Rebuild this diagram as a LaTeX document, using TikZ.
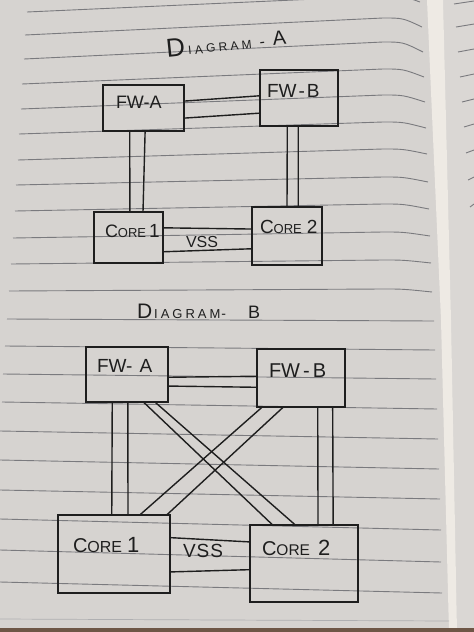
\documentclass[tikz,border=0pt]{standalone}
\usepackage{fontspec}
\setmainfont{Liberation Sans}
\usetikzlibrary{calc}
\definecolor{paper}{RGB}{214,211,208}
\definecolor{nextpage}{RGB}{218,215,212}
\definecolor{pageedge}{RGB}{238,234,228}
\definecolor{rulecol}{RGB}{122,122,126}
\definecolor{ink}{RGB}{30,30,30}
\definecolor{tablecol}{RGB}{110,86,70}
\newcommand\hsz[1]{\fontsize{#1}{#1}\selectfont}
\begin{document}
\begin{tikzpicture}[x=1pt,y=-1pt,
  rulestyle/.style={draw=rulecol,line width=0.9pt},
  pen/.style={draw=ink,line width=1.4pt},
  box/.style={draw=ink,line width=1.5pt,rectangle,inner sep=0pt,outer sep=0pt},
  lbl/.style={inner sep=0pt,outer sep=0pt,text=ink}]
\useasboundingbox (0,0) rectangle (474,632);
% paper
\fill[paper] (0,0) rectangle (474,632);
\fill[nextpage] (443,0) -- (474,0) -- (474,632) -- (457,632) -- (451,320) -- cycle;
\fill[pageedge] (427,0) -- (443,0) -- (451,320) -- (457,632) -- (449,632) -- (441,320) -- cycle;
\draw[rulecol!60,line width=0.7pt] (0,619) -- (449,621);
\fill[tablecol] (0,628) rectangle (474,632);
% ruled lines (upper part: rising, with a droop near the binding)
\foreach \yl/\ym/\yr/\xl/\xr in {12/-4/2/27/420,35/18/27/25/422,59/42/52/24/423,84/69/77/22/424,
  109/95/102/21/425,134/122/128/19/426,160/149/154/18/427,185/177/182/16/428,
  211/204/209/15/429,238/232/236/13/430,264/260/263/11/431,291/289/292/9/432}
  \draw[rulestyle] (\xl,\yl) -- (383,\ym) .. controls (403,\ym) .. (\xr,\yr);
% ruled lines (lower part)
\foreach \yl/\yr/\xl/\xr in {319/321/7/434,346/350/5/435,374/379/3/436,402/409/2/437,431/439/0/438,
  460/469/0/439,490/499/0/440,519/530/0/441,550/562/0/441,582/593/0/442}
  \draw[rulestyle] (\xl,\yl) -- (\xr,\yr);
\foreach \ys/\xs in {4/454,27/456,52/458,77/460,102/462,127/464,153/466,180/468,207/470}
  \draw[rulestyle] (\xs,\ys) -- (474,\ys-3);

% ---------------- Diagram A ----------------
\node[lbl,anchor=base west,rotate=6] (titleA) at (167,57)
  {\hsz{26}D\kern3pt\hsz{12}I\kern3.3pt A\kern3.3pt G\kern3.3pt R\kern3.3pt A\kern3.3pt M\kern8pt\hsz{16}-\kern8pt\hsz{20}A};

\node[box,minimum width=81pt,minimum height=46pt] (fwaA) at (143.5,108) {};
\node[box,minimum width=78pt,minimum height=56pt] (fwbA) at (299,98) {};
\node[box,minimum width=69pt,minimum height=51pt] (coreoneA) at (128.5,237.5) {};
\node[box,minimum width=70pt,minimum height=58pt] (coretwoA) at (287,236) {};

\node[lbl,anchor=base west] (tfwaA) at (116,108) {\hsz{18}FW-A};
\node[lbl,anchor=base west] (tfwbA) at (267,97) {\hsz{19}FW\kern2pt-\kern2pt B};
\node[lbl,anchor=base west] (tcoreoneA) at (105,237) {\hsz{18}C\hsz{13}ORE\kern3pt\hsz{19}1};
\node[lbl,anchor=base west] (tcoretwoA) at (260,233) {\hsz{19}C\hsz{13}ORE\kern5pt\hsz{19}2};
\node[lbl,anchor=base west] (tvssA) at (186,247) {\hsz{16}VSS};

% FW-A -- FW-B
\draw[pen] ($(fwaA.north east)!0.35!(fwaA.south east)$) -- ($(fwbA.north west)!0.46!(fwbA.south west)$);
\draw[pen] ($(fwaA.north east)!0.72!(fwaA.south east)$) -- ($(fwbA.north west)!0.77!(fwbA.south west)$);
% FW-A -- Core 1
\draw[pen] ($(fwaA.south west)!0.33!(fwaA.south east)$) -- ($(coreoneA.north west)!0.52!(coreoneA.north east)$);
\draw[pen] ($(fwaA.south west)!0.52!(fwaA.south east)$) -- ($(coreoneA.north west)!0.71!(coreoneA.north east)$);
% FW-B -- Core 2
\draw[pen] ($(fwbA.south west)!0.35!(fwbA.south east)$) -- ($(coretwoA.north west)!0.5!(coretwoA.north east)$);
\draw[pen] ($(fwbA.south west)!0.49!(fwbA.south east)$) -- ($(coretwoA.north west)!0.66!(coretwoA.north east)$);
% VSS
\draw[pen] ($(coreoneA.north east)!0.31!(coreoneA.south east)$) -- ($(coretwoA.north west)!0.38!(coretwoA.south west)$);
\draw[pen] ($(coreoneA.north east)!0.78!(coreoneA.south east)$) -- ($(coretwoA.north west)!0.72!(coretwoA.south west)$);

% ---------------- Diagram B ----------------
\node[lbl,anchor=base west] (titleB) at (137,318)
  {\hsz{21}D\kern2pt\hsz{13}I\kern3pt A\kern3pt G\kern3pt R\kern3pt A\kern3pt M\kern1pt\hsz{14}-\kern22pt\hsz{18}B};

\node[box,minimum width=82pt,minimum height=55pt] (fwaB) at (127,374.5) {};
\node[box,minimum width=88pt,minimum height=58pt] (fwbB) at (301,378) {};
\node[box,minimum width=112pt,minimum height=78pt] (coreoneB) at (114,554) {};
\node[box,minimum width=108pt,minimum height=77pt] (coretwoB) at (304,563.5) {};

\node[lbl,anchor=base west] (tfwaB) at (97,372) {\hsz{19}FW-\kern7pt A};
\node[lbl,anchor=base west] (tfwbB) at (269,377) {\hsz{20}FW\kern3pt-\kern3pt B};
\node[lbl,anchor=base west] (tcoreoneB) at (73,552) {\hsz{20}C\hsz{16}ORE\kern5pt\hsz{22}1};
\node[lbl,anchor=base west] (tcoretwoB) at (262,555) {\hsz{20}C\hsz{15.5}ORE\kern8pt\hsz{22}2};
\node[lbl,anchor=base west] (tvssB) at (183,557) {\hsz{19}V\kern1pt S\kern1pt S};

% FW-A -- FW-B
\draw[pen] ($(fwaB.north east)!0.55!(fwaB.south east)$) -- ($(fwbB.north west)!0.47!(fwbB.south west)$);
\draw[pen] ($(fwaB.north east)!0.71!(fwaB.south east)$) -- ($(fwbB.north west)!0.66!(fwbB.south west)$);
% FW-A -- Core 1
\draw[pen] ($(fwaB.south west)!0.32!(fwaB.south east)$) -- ($(coreoneB.north west)!0.48!(coreoneB.north east)$);
\draw[pen] ($(fwaB.south west)!0.51!(fwaB.south east)$) -- ($(coreoneB.north west)!0.625!(coreoneB.north east)$);
% FW-B -- Core 2
\draw[pen] ($(fwbB.south west)!0.69!(fwbB.south east)$) -- ($(coretwoB.north west)!0.63!(coretwoB.north east)$);
\draw[pen] ($(fwbB.south west)!0.86!(fwbB.south east)$) -- ($(coretwoB.north west)!0.77!(coretwoB.north east)$);
% FW-A -- Core 2 (cross)
\draw[pen] ($(fwaB.south west)!0.70!(fwaB.south east)$) -- ($(coretwoB.north west)!0.21!(coretwoB.north east)$);
\draw[pen] ($(fwaB.south west)!0.84!(fwaB.south east)$) -- ($(coretwoB.north west)!0.42!(coretwoB.north east)$);
% FW-B -- Core 1 (cross)
\draw[pen] ($(fwbB.south west)!0.06!(fwbB.south east)$) -- ($(coreoneB.north west)!0.73!(coreoneB.north east)$);
\draw[pen] ($(fwbB.south west)!0.30!(fwbB.south east)$) -- ($(coreoneB.north west)!0.97!(coreoneB.north east)$);
% VSS
\draw[pen] ($(coreoneB.north east)!0.29!(coreoneB.south east)$) -- ($(coretwoB.north west)!0.22!(coretwoB.south west)$);
\draw[pen] ($(coreoneB.north east)!0.73!(coreoneB.south east)$) -- ($(coretwoB.north west)!0.58!(coretwoB.south west)$);
\end{tikzpicture}
\end{document}
